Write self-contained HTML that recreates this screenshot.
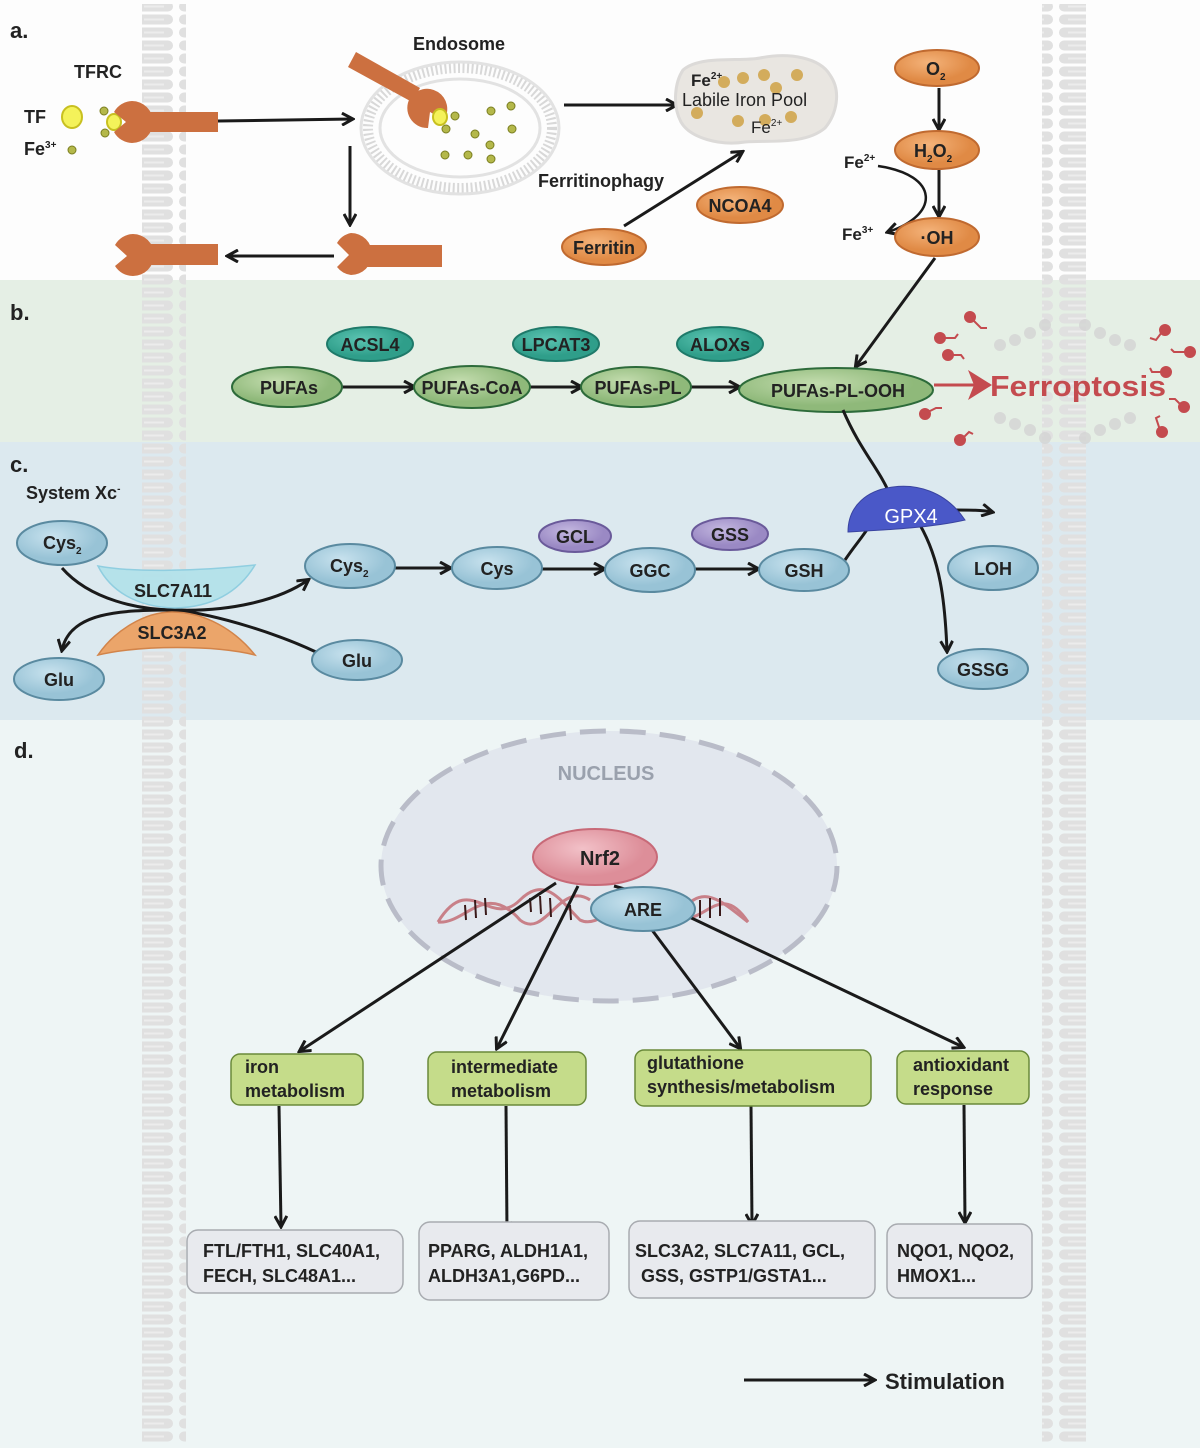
<!DOCTYPE html>
<html><head><meta charset="utf-8"><style>
body{margin:0;width:1200px;height:1448px;overflow:hidden;background:#fff}
svg text{font-family:"Liberation Sans",sans-serif;font-weight:bold;fill:#222}
</style></head><body>
<svg width="1200" height="1448" viewBox="0 0 1200 1448" xmlns="http://www.w3.org/2000/svg">
<defs>
<pattern id="mem" width="44" height="13" patternUnits="userSpaceOnUse">
<rect x="3" y="1.5" width="38" height="10" rx="5" fill="#e0e0e0"/>
<rect x="12" y="5.5" width="20" height="2" fill="#ececec"/>
</pattern>
<marker id="ar" markerWidth="14" markerHeight="14" refX="11" refY="7" orient="auto" markerUnits="userSpaceOnUse"><path d="M1,1 L12,7 L1,13" fill="none" stroke="#1a1a1a" stroke-width="3"/></marker>
<marker id="arr" markerWidth="26" markerHeight="30" refX="22" refY="15" orient="auto" markerUnits="userSpaceOnUse"><path d="M0,0 L24,15 L0,30 L6,15Z" fill="#c44b4f"/></marker>
<radialGradient id="go" cx="40%" cy="35%"><stop offset="0" stop-color="#f4b37a"/><stop offset="1" stop-color="#e08a45"/></radialGradient>
<radialGradient id="gg" cx="40%" cy="35%"><stop offset="0" stop-color="#c3dcae"/><stop offset="1" stop-color="#8fb97a"/></radialGradient>
<radialGradient id="gt" cx="40%" cy="35%"><stop offset="0" stop-color="#5cc4b2"/><stop offset="1" stop-color="#2f9e8a"/></radialGradient>
<radialGradient id="gb" cx="40%" cy="35%"><stop offset="0" stop-color="#c8e2ee"/><stop offset="1" stop-color="#98c3d6"/></radialGradient>
<radialGradient id="gp" cx="40%" cy="35%"><stop offset="0" stop-color="#c4b8e0"/><stop offset="1" stop-color="#9a89c4"/></radialGradient>
<radialGradient id="gr" cx="40%" cy="35%"><stop offset="0" stop-color="#f2c1c8"/><stop offset="1" stop-color="#dd8e99"/></radialGradient>
</defs>
<rect x="0" y="0" width="1200" height="280" fill="#fdfdfd"/>
<rect x="0" y="280" width="1200" height="162" fill="#e5efe5"/>
<rect x="0" y="442" width="1200" height="278" fill="#dce9ef"/>
<rect x="0" y="720" width="1200" height="728" fill="#eef5f5"/>
<rect x="142" y="4" width="44" height="1440" fill="url(#mem)"/>
<rect x="1042" y="4" width="44" height="1440" fill="url(#mem)"/>
<text x="10" y="38" font-size="22">a.</text>
<text x="10" y="320" font-size="22">b.</text>
<text x="10" y="472" font-size="22">c.</text>
<text x="14" y="758" font-size="22">d.</text>

<text x="74" y="78" font-size="18">TFRC</text>
<text x="24" y="123" font-size="18">TF</text>
<text x="24" y="155" font-size="18">Fe<tspan font-size="10" dy="-7">3+</tspan></text>
<ellipse cx="72" cy="117" rx="10" ry="11" fill="#f4f25a" stroke="#c8c020" stroke-width="2"/>
<circle cx="72" cy="150" r="4" fill="#b4b84a" stroke="#7a7e20"/>
<g fill="#b4b84a" stroke="#7a7e20"><circle cx="104" cy="111" r="4"/><circle cx="105" cy="133" r="4"/></g>
<ellipse cx="114" cy="122" rx="7" ry="8" fill="#f4f25a" stroke="#c8c020" stroke-width="2"/>
<g fill="#cc7040">
<path d="M132,101 A21,21 0 1 1 132,143 A21,21 0 0 1 114,132 L126,122 L114,112 A21,21 0 0 1 132,101Z"/>
<rect x="140" y="112" width="78" height="20"/>
<path d="M351,233 A21,21 0 1 1 351,275 A21,21 0 0 1 337,267 L349,255 L337,243 A21,21 0 0 1 351,233Z"/>
<rect x="355" y="245" width="87" height="22"/>
<path d="M133,234 A21,21 0 1 1 133,276 A21,21 0 0 1 115,266 L127,256 L115,245 A21,21 0 0 1 133,234Z"/>
<rect x="140" y="244" width="78" height="21"/>
</g>
<ellipse cx="460" cy="128" rx="92" ry="60" fill="none" stroke="#d8d8d8" stroke-width="10" stroke-dasharray="2 2.5"/>
<ellipse cx="460" cy="128" rx="80" ry="49" fill="none" stroke="#e2e2e2" stroke-width="3"/>
<ellipse cx="460" cy="128" rx="99" ry="66" fill="none" stroke="#e2e2e2" stroke-width="3"/>
<text x="413" y="50" font-size="18">Endosome</text>
<g fill="#cc7040">
<path d="M348,67 L356,52 L420,88 L412,102Z"/>
<path d="M410,98 A20,20 0 1 1 444,120 L430,112 L428,128 A20,20 0 0 1 410,98Z"/>
</g>
<ellipse cx="440" cy="117" rx="7" ry="8" fill="#f4f25a" stroke="#c8c020" stroke-width="2"/>
<g fill="#b4b84a" stroke="#7a7e20"><circle cx="455" cy="116" r="4"/><circle cx="446" cy="129" r="4"/><circle cx="491" cy="111" r="4"/><circle cx="511" cy="106" r="4"/><circle cx="512" cy="129" r="4"/><circle cx="475" cy="134" r="4"/><circle cx="490" cy="145" r="4"/><circle cx="468" cy="155" r="4"/><circle cx="445" cy="155" r="4"/><circle cx="491" cy="159" r="4"/></g>
<g stroke="#1a1a1a" stroke-width="3" fill="none" marker-end="url(#ar)">
<line x1="218" y1="121" x2="352" y2="119"/>
<line x1="350" y1="146" x2="350" y2="224"/>
<line x1="334" y1="256" x2="228" y2="256"/>
<line x1="564" y1="105" x2="676" y2="105"/>
<line x1="624" y1="226" x2="742" y2="152"/>
<line x1="939" y1="88" x2="939" y2="129"/>
<line x1="939" y1="170" x2="939" y2="216"/>
<path d="M878,166 C940,175 940,215 888,232" stroke-width="2.5"/>
<line x1="935" y1="258" x2="856" y2="366"/>
</g>
<path d="M683,70 C700,55 740,62 760,58 C790,52 820,58 830,75 C842,92 836,115 825,128 C805,145 770,140 745,142 C720,146 690,138 681,122 C672,105 675,82 683,70Z" fill="#e9e6e1" stroke="#dcdad8" stroke-width="3"/>
<g fill="#d3ac5c"><circle cx="724" cy="82" r="6"/><circle cx="743" cy="78" r="6"/><circle cx="764" cy="75" r="6"/><circle cx="776" cy="88" r="6"/><circle cx="797" cy="75" r="6"/><circle cx="697" cy="113" r="6"/><circle cx="738" cy="121" r="6"/><circle cx="765" cy="120" r="6"/><circle cx="791" cy="117" r="6"/></g>
<text x="691" y="86" font-size="17" font-weight="normal">Fe<tspan font-size="10" dy="-7">2+</tspan></text>
<text x="682" y="106" font-size="18" style="font-weight:normal">Labile Iron Pool</text>
<text x="751" y="133" font-size="17" style="font-weight:normal">Fe<tspan font-size="10" dy="-7">2+</tspan></text>
<text x="538" y="187" font-size="18">Ferritinophagy</text>
<g stroke="#c06a30" stroke-width="2" fill="url(#go)">
<ellipse cx="604" cy="247" rx="42" ry="18"/>
<ellipse cx="740" cy="205" rx="43" ry="18"/>
<ellipse cx="937" cy="68" rx="42" ry="18"/>
<ellipse cx="937" cy="150" rx="42" ry="19"/>
<ellipse cx="937" cy="237" rx="42" ry="19"/>
</g>
<text x="604" y="254" font-size="18" text-anchor="middle">Ferritin</text>
<text x="740" y="212" font-size="18" text-anchor="middle">NCOA4</text>
<text x="926" y="75" font-size="18">O<tspan font-size="10" dy="5">2</tspan></text>
<text x="914" y="157" font-size="18">H<tspan font-size="10" dy="5">2</tspan><tspan dy="-5">O</tspan><tspan font-size="10" dy="5">2</tspan></text>
<text x="937" y="244" font-size="18" text-anchor="middle">·OH</text>
<text x="844" y="168" font-size="17" fill="#333">Fe<tspan font-size="10" dy="-7">2+</tspan></text>
<text x="842" y="240" font-size="17">Fe<tspan font-size="10" dy="-7">3+</tspan></text>

<g fill="#d4d4d4" opacity="0.8">
<circle cx="1000" cy="345" r="6"/><circle cx="1015" cy="340" r="6"/><circle cx="1030" cy="333" r="6"/><circle cx="1045" cy="325" r="6"/><circle cx="1085" cy="325" r="6"/><circle cx="1100" cy="333" r="6"/><circle cx="1115" cy="340" r="6"/><circle cx="1130" cy="345" r="6"/>
<circle cx="1000" cy="418" r="6"/><circle cx="1015" cy="424" r="6"/><circle cx="1030" cy="430" r="6"/><circle cx="1045" cy="438" r="6"/><circle cx="1085" cy="438" r="6"/><circle cx="1100" cy="430" r="6"/><circle cx="1115" cy="424" r="6"/><circle cx="1130" cy="418" r="6"/>
</g>
<g fill="#c44b4f" stroke="#c44b4f" stroke-width="2">
<circle cx="970" cy="317" r="5"/><circle cx="940" cy="338" r="5"/><circle cx="948" cy="355" r="5"/><circle cx="925" cy="414" r="5"/><circle cx="960" cy="440" r="5"/><circle cx="1165" cy="330" r="5"/><circle cx="1190" cy="352" r="5"/><circle cx="1166" cy="372" r="5"/><circle cx="1184" cy="407" r="5"/><circle cx="1162" cy="432" r="5"/>
<path d="M973,320 l8,8 h6 M943,338 h12 l3,-4 M951,355 h10 l3,4 M928,412 l8,-4 h6 M963,438 l6,-6 l4,2 M1162,332 l-6,8 l-6,-2 M1186,352 h-12 l-3,-3 M1162,372 h-10 l-2,-4 M1181,405 l-6,-6 h-6 M1160,430 l-4,-12 l4,-2" fill="none"/>
</g>
<g stroke="#1a1a1a" stroke-width="3" fill="none" marker-end="url(#ar)">
<line x1="342" y1="387" x2="414" y2="387"/>
<line x1="530" y1="387" x2="581" y2="387"/>
<line x1="691" y1="387" x2="739" y2="387"/>
</g>
<g stroke="#2d6b3a" stroke-width="2" fill="url(#gg)">
<ellipse cx="287" cy="387" rx="55" ry="20"/>
<ellipse cx="472" cy="387" rx="58" ry="21"/>
<ellipse cx="636" cy="387" rx="55" ry="20"/>
<ellipse cx="836" cy="390" rx="97" ry="22"/>
</g>
<g stroke="#1f7a6a" stroke-width="2" fill="url(#gt)">
<ellipse cx="370" cy="344" rx="43" ry="17"/>
<ellipse cx="556" cy="344" rx="43" ry="17"/>
<ellipse cx="720" cy="344" rx="43" ry="17"/>
</g>
<text x="370" y="351" font-size="18" text-anchor="middle">ACSL4</text>
<text x="556" y="351" font-size="18" text-anchor="middle">LPCAT3</text>
<text x="720" y="351" font-size="18" text-anchor="middle">ALOXs</text>
<text x="289" y="394" font-size="18" text-anchor="middle">PUFAs</text>
<text x="472" y="394" font-size="18" text-anchor="middle">PUFAs-CoA</text>
<text x="638" y="394" font-size="18" text-anchor="middle">PUFAs-PL</text>
<text x="838" y="397" font-size="18" text-anchor="middle">PUFAs-PL-OOH</text>
<line x1="934" y1="385" x2="990" y2="385" stroke="#c44b4f" stroke-width="3" marker-end="url(#arr)"/>
<text x="990" y="396" font-size="29" style="fill:#c44b4f" textLength="176" lengthAdjust="spacingAndGlyphs">Ferroptosis</text>

<text x="26" y="499" font-size="18">System Xc<tspan font-size="10" dy="-7">-</tspan></text>
<g stroke="#1a1a1a" stroke-width="3" fill="none">
<path d="M843,410 C860,450 880,470 890,495"/>
<path d="M62,568 C90,600 140,610 175,610 C230,612 280,600 308,580" marker-end="url(#ar)"/>
<path d="M175,610 C120,610 70,612 62,650" marker-end="url(#ar)"/>
<path d="M175,610 C220,615 280,635 316,652"/>
<line x1="395" y1="568" x2="450" y2="568" marker-end="url(#ar)"/>
<line x1="542" y1="569" x2="604" y2="569" marker-end="url(#ar)"/>
<line x1="695" y1="569" x2="758" y2="569" marker-end="url(#ar)"/>
<path d="M845,560 C855,545 862,538 870,525"/>
<path d="M955,510 C970,510 982,510 992,512" marker-end="url(#ar)"/>
<path d="M920,525 C940,560 945,600 947,651" marker-end="url(#ar)"/>
</g>
<path d="M98,566 C130,572 190,572 255,565 C240,590 215,607 175,608 C135,607 110,590 98,566Z" fill="#b3e2ea" stroke="#8ccde0" stroke-width="1.5" opacity="0.95"/>
<path d="M98,655 C115,630 145,612 172,612 C205,612 235,630 255,655 C215,645 140,645 98,655Z" fill="#eba56a" stroke="#d2844a" stroke-width="1.5"/>
<text x="173" y="597" font-size="18" text-anchor="middle">SLC7A11</text>
<text x="172" y="639" font-size="18" text-anchor="middle">SLC3A2</text>
<path d="M848,532 C848,505 868,490 893,487 C915,484 945,490 965,520 C930,528 885,530 848,532Z" fill="#4a58c8" stroke="#3a44a0"/>
<text x="911" y="523" font-size="20" style="font-weight:normal;fill:#fff" text-anchor="middle">GPX4</text>
<g stroke="#5a8aa0" stroke-width="2" fill="url(#gb)">
<ellipse cx="62" cy="543" rx="45" ry="22"/>
<ellipse cx="59" cy="679" rx="45" ry="21"/>
<ellipse cx="357" cy="660" rx="45" ry="20"/>
<ellipse cx="350" cy="566" rx="45" ry="22"/>
<ellipse cx="497" cy="568" rx="45" ry="21"/>
<ellipse cx="650" cy="570" rx="45" ry="22"/>
<ellipse cx="804" cy="570" rx="45" ry="21"/>
<ellipse cx="993" cy="568" rx="45" ry="22"/>
<ellipse cx="983" cy="669" rx="45" ry="20"/>
</g>
<g stroke="#6a5a9a" stroke-width="2" fill="url(#gp)">
<ellipse cx="575" cy="536" rx="36" ry="16"/>
<ellipse cx="730" cy="534" rx="38" ry="16"/>
</g>
<text x="43" y="549" font-size="18">Cys<tspan font-size="10" dy="5">2</tspan></text>
<text x="59" y="686" font-size="18" text-anchor="middle">Glu</text>
<text x="357" y="667" font-size="18" text-anchor="middle">Glu</text>
<text x="330" y="572" font-size="18">Cys<tspan font-size="10" dy="5">2</tspan></text>
<text x="497" y="575" font-size="18" text-anchor="middle">Cys</text>
<text x="650" y="577" font-size="18" text-anchor="middle">GGC</text>
<text x="804" y="577" font-size="18" text-anchor="middle">GSH</text>
<text x="993" y="575" font-size="18" text-anchor="middle">LOH</text>
<text x="983" y="676" font-size="18" text-anchor="middle">GSSG</text>
<text x="575" y="543" font-size="18" text-anchor="middle">GCL</text>
<text x="730" y="541" font-size="18" text-anchor="middle">GSS</text>

<ellipse cx="609" cy="866" rx="228" ry="135" fill="#e2e7ee" stroke="#b9bcc8" stroke-width="5" stroke-dasharray="26 14"/>
<text x="606" y="780" font-size="20" style="fill:#9aa1ad" text-anchor="middle">NUCLEUS</text>
<g fill="none" stroke="#c88088" stroke-width="3">
<path d="M438,922 C470,870 490,930 520,900 C545,875 560,900 580,920 C600,930 620,895 640,905"/>
<path d="M438,922 C465,925 485,880 520,920 C545,940 560,880 590,900"/>
<path d="M678,918 C700,880 720,900 748,922"/>
<path d="M678,918 C705,925 720,880 748,922"/>
</g>
<g stroke="#3a1a1a" stroke-width="2">
<line x1="465" y1="905" x2="466" y2="920"/><line x1="475" y1="900" x2="476" y2="918"/><line x1="485" y1="898" x2="486" y2="915"/><line x1="530" y1="898" x2="531" y2="912"/><line x1="540" y1="896" x2="541" y2="914"/><line x1="550" y1="898" x2="551" y2="917"/><line x1="570" y1="905" x2="571" y2="920"/><line x1="700" y1="900" x2="700" y2="918"/><line x1="710" y1="898" x2="710" y2="918"/><line x1="720" y1="898" x2="720" y2="916"/>
</g>
<g stroke="#1a1a1a" stroke-width="3" fill="none" marker-end="url(#ar)">
<line x1="556" y1="883" x2="300" y2="1051"/>
<line x1="578" y1="886" x2="497" y2="1048"/>
<line x1="652" y1="930" x2="740" y2="1048"/>
<line x1="683" y1="914" x2="963" y2="1047"/>
<line x1="279" y1="1106" x2="281" y2="1226"/>
<line x1="506" y1="1106" x2="507" y2="1232"/>
<line x1="751" y1="1106" x2="752" y2="1224"/>
<line x1="964" y1="1105" x2="965" y2="1222"/>
<line x1="744" y1="1380" x2="874" y2="1380"/>
</g>
<line x1="614" y1="886" x2="628" y2="890" stroke="#1a1a1a" stroke-width="3"/>
<ellipse cx="595" cy="857" rx="62" ry="28" fill="url(#gr)" stroke="#c86a78" stroke-width="2"/>
<text x="600" y="865" font-size="20" text-anchor="middle">Nrf2</text>
<ellipse cx="643" cy="909" rx="52" ry="22" fill="url(#gb)" stroke="#5a8aa0" stroke-width="2"/>
<text x="643" y="916" font-size="18" text-anchor="middle">ARE</text>
<g fill="#c5dc8a" stroke="#6a8a3a" stroke-width="1.5">
<rect x="231" y="1054" width="132" height="51" rx="9"/>
<rect x="428" y="1052" width="158" height="53" rx="9"/>
<rect x="635" y="1050" width="236" height="56" rx="9"/>
<rect x="897" y="1051" width="132" height="53" rx="9"/>
</g>
<g font-size="18">
<text x="245" y="1073">iron</text><text x="245" y="1097">metabolism</text>
<text x="451" y="1073">intermediate</text><text x="451" y="1097">metabolism</text>
<text x="647" y="1069">glutathione</text><text x="647" y="1093">synthesis/metabolism</text>
<text x="913" y="1071">antioxidant</text><text x="913" y="1095">response</text>
</g>
<g fill="#e8eaee" stroke="#a8abb0" stroke-width="1.5">
<rect x="187" y="1230" width="216" height="63" rx="11"/>
<rect x="419" y="1222" width="190" height="78" rx="11"/>
<rect x="629" y="1221" width="246" height="77" rx="11"/>
<rect x="887" y="1224" width="145" height="74" rx="11"/>
</g>
<g font-size="18">
<text x="203" y="1257">FTL/FTH1, SLC40A1,</text><text x="203" y="1282">FECH, SLC48A1...</text>
<text x="428" y="1257">PPARG, ALDH1A1,</text><text x="428" y="1282">ALDH3A1,G6PD...</text>
<text x="635" y="1257">SLC3A2, SLC7A11, GCL,</text><text x="641" y="1282">GSS, GSTP1/GSTA1...</text>
<text x="897" y="1257">NQO1, NQO2,</text><text x="897" y="1282">HMOX1...</text>
</g>
<text x="885" y="1389" font-size="22">Stimulation</text>
</svg>
</body></html>
